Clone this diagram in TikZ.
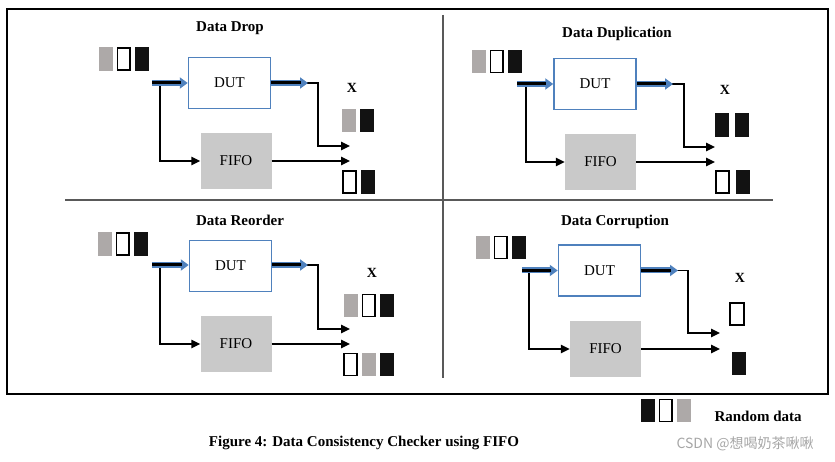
\documentclass[tikz,border=0pt]{standalone}
\usepackage{fontspec}
\setmainfont{Liberation Serif}
\newfontfamily\cjkfont{Noto Sans CJK SC}
\usepackage{xcolor}
\usepackage{tikz}
\usetikzlibrary{arrows.meta,positioning}
\definecolor{dutblue}{HTML}{4F81BD}
\definecolor{bitgray}{HTML}{ADA9A8}
\definecolor{fifogray}{HTML}{C9C9C9}

\begin{document}
\begin{tikzpicture}[
  x=1pt, y=-1pt, font=\fontsize{15}{18}\selectfont, node distance=4pt,
  bit/.style={minimum width=14pt, minimum height=23.5pt, inner sep=0pt},
  gbit/.style={bit, fill=bitgray},
  wbit/.style={bit, draw=black, line width=1.6pt, fill=white, minimum width=12.5pt, minimum height=22pt},
  kbit/.style={bit, fill=black!93},
  dut/.style={draw=dutblue, line width=1.5pt, minimum width=82pt, minimum height=51pt, inner sep=0pt},
  fifo/.style={fill=fifogray, minimum width=71pt, minimum height=56pt, inner sep=0pt},
  title/.style={font=\fontsize{15}{18}\selectfont\bfseries},
  xlabel/.style={font=\fontsize{14}{17}\selectfont\bfseries},
  bus/.style={-{Triangle[length=8pt,width=11pt]}, dutblue, line width=6pt},
  buscore/.style={black, line width=3pt, shorten >=7pt},
  wire/.style={-{Triangle[length=9pt,width=8.5pt]}, line width=1.4pt},
  panelrule/.style={black!65, line width=1.2pt},
]
\useasboundingbox (0,0) rectangle (835,462);

% ---------------- frame ----------------
\draw[line width=2pt] (7,9) rectangle (828,394);
\coordinate (vtop) at (443,15);
\coordinate (vbot) at (443,378);
\coordinate (hlft) at (65,200);
\coordinate (hrgt) at (773,200);
\draw[panelrule] (vtop) -- (vbot);
\draw[panelrule] (hlft) -- (hrgt);

% ---------------- data drop (top left) ----------------
\node[title] (t1) at (230,28) {Data Drop};
\node[gbit] (in1a) at (105.5,59) {};
\node[wbit, right=of in1a] (in1b) {};
\node[kbit, right=of in1b] (in1c) {};
\node[dut] (dut1) at (229.5,83) {DUT};
\node[fifo] (fifo1) at (236,161) {FIFO};
\coordinate (src1) at (152,83);
\coordinate (tap1) at (160,83);
\coordinate (dout1) at (308,83);
\coordinate (chk1a) at (350,146);
\coordinate (chk1b) at (350,161);
\draw[wire] (tap1) |- (fifo1.west);
\draw[wire] ([xshift=-2pt]dout1) -- ++(12,0) |- (chk1a);
\draw[wire] (fifo1.east) -- (chk1b);
\draw[bus] (src1) -- (dut1.west);
\draw[buscore] (src1) -- (dut1.west);
\draw[bus] (dut1.east) -- (dout1);
\draw[buscore] (dut1.east) -- (dout1);
\node[xlabel] (x1) at (352,88) {X};
\node[gbit] (o1a) at (349,120.5) {};
\node[kbit, right=of o1a] (o1b) {};
\node[wbit] (o1c) at (349.5,182) {};
\node[kbit, right=of o1c] (o1d) {};

% ---------------- data duplication (top right) ----------------
\node[title] (t2) at (617,34) {Data Duplication};
\node[gbit] (in2a) at (478.5,61.5) {};
\node[wbit, right=of in2a] (in2b) {};
\node[kbit, right=of in2b] (in2c) {};
\node[dut] (dut2) at (595,84) {DUT};
\node[fifo] (fifo2) at (600.5,162) {FIFO};
\coordinate (src2) at (517,84);
\coordinate (tap2) at (526,84);
\coordinate (dout2) at (673,84);
\coordinate (chk2a) at (715,147);
\coordinate (chk2b) at (715,162);
\draw[wire] (tap2) |- (fifo2.west);
\draw[wire] ([xshift=-2pt]dout2) -- ++(13,0) |- (chk2a);
\draw[wire] (fifo2.east) -- (chk2b);
\draw[bus] (src2) -- (dut2.west);
\draw[buscore] (src2) -- (dut2.west);
\draw[bus] (dut2.east) -- (dout2);
\draw[buscore] (dut2.east) -- (dout2);
\node[xlabel] (x2) at (725,90) {X};
\node[kbit] (o2a) at (722,125) {};
\node[kbit, right=6pt of o2a] (o2b) {};
\node[wbit] (o2c) at (722.5,182) {};
\node[kbit, right=6pt of o2c] (o2d) {};

% ---------------- data reorder (bottom left) ----------------
\node[title] (t3) at (240,220) {Data Reorder};
\node[gbit] (in3a) at (104.5,244) {};
\node[wbit, right=of in3a] (in3b) {};
\node[kbit, right=of in3b] (in3c) {};
\node[dut] (dut3) at (230.5,266) {DUT};
\node[fifo] (fifo3) at (236,344) {FIFO};
\coordinate (src3) at (152,265);
\coordinate (tap3) at (160,265);
\coordinate (dout3) at (308,265);
\coordinate (chk3a) at (350,329);
\coordinate (chk3b) at (350,344);
\draw[wire] (tap3) |- (fifo3.west);
\draw[wire] ([xshift=-2pt]dout3) -- ++(12,0) |- (chk3a);
\draw[wire] (fifo3.east) -- (chk3b);
\draw[bus] (src3) -- (src3 -| dut3.west);
\draw[buscore] (src3) -- (src3 -| dut3.west);
\draw[bus] (dout3 -| dut3.east) -- (dout3);
\draw[buscore] (dout3 -| dut3.east) -- (dout3);
\node[xlabel] (x3) at (372,273) {X};
\node[gbit] (o3a) at (350.5,305.5) {};
\node[wbit, right=of o3a] (o3b) {};
\node[kbit, right=of o3b] (o3c) {};
\node[wbit] (o3d) at (350.5,364.5) {};
\node[gbit, right=of o3d] (o3e) {};
\node[kbit, right=of o3e] (o3f) {};

% ---------------- data corruption (bottom right) ----------------
\node[title] (t4) at (615,222) {Data Corruption};
\node[gbit] (in4a) at (482.5,247.5) {};
\node[wbit, right=of in4a] (in4b) {};
\node[kbit, right=of in4b] (in4c) {};
\node[dut] (dut4) at (599.5,270.5) {DUT};
\node[fifo] (fifo4) at (605.5,349) {FIFO};
\coordinate (src4) at (522,270.5);
\coordinate (tap4) at (529,270.5);
\coordinate (dout4) at (678,270.5);
\coordinate (chk4a) at (720,333);
\coordinate (chk4b) at (720,349);
\draw[wire] (tap4) |- (fifo4.west);
\draw[wire] ([xshift=-2pt]dout4) -- ++(12,0) |- (chk4a);
\draw[wire] (fifo4.east) -- (chk4b);
\draw[bus] (src4) -- (dut4.west);
\draw[buscore] (src4) -- (dut4.west);
\draw[bus] (dut4.east) -- (dout4);
\draw[buscore] (dut4.east) -- (dout4);
\node[xlabel] (x4) at (740,278) {X};
\node[wbit, minimum width=14pt] (o4a) at (737,314) {};
\node[kbit] (o4b) at (739,363.5) {};

% ---------------- legend and caption ----------------
\node[kbit] (lk) at (647.5,410.5) {};
\node[wbit, right=of lk] (lw) {};
\node[gbit, right=of lw] (lg) {};
\node[title, anchor=west] (ltext) at (711,416) {Random data};
\node[title] (cap) at (364,443) {Figure 4: Data Consistency Checker using FIFO};
\node[text=black!35, anchor=west, font=\fontsize{14}{17}\selectfont\cjkfont] (wm) at (673,444) {CSDN @想喝奶茶啾啾};
\end{tikzpicture}
\end{document}
